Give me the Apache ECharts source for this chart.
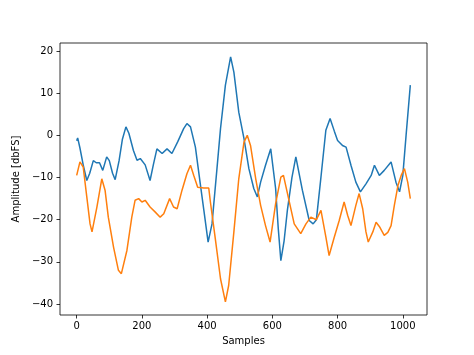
<!DOCTYPE html>
<html>
<head>
<meta charset="utf-8">
<script src="https://cdn.jsdelivr.net/npm/echarts@6/dist/echarts.min.js"></script>
<style>html,body{margin:0;padding:0;background:#fff}#c{width:474px;height:355px}</style>
</head>
<body>
<div id="c"></div>
<script>
// Data
var blueSamples = [0,3,10,20,31,40,51,60,70,80,92,100,110,118,130,140,151,160,174,185,195,210,225,235,246,262,277,292,310,328,338,349,364,379,390,403,415,420,430,441,456,472,482,497,513,528,543,554,564,579,595,610,618,626,636,646,660,672,677,692,713,725,735,749,764,777,790,800,815,826,841,856,870,887,903,913,928,943,964,979,990,1000,1010,1023];
var blueValues  = [-1.3,-0.6,-3,-7,-10.7,-9,-6.0,-6.5,-6.5,-8.3,-5.1,-6,-9,-10.5,-6,-1,2.0,0.5,-3.6,-5.9,-5.5,-7,-10.7,-7,-3.2,-4.3,-3.2,-4.3,-1.5,1.6,2.8,2.0,-2.8,-11.5,-17.8,-25.3,-21,-16.6,-8,1.6,11.9,18.6,15,5.5,-0.8,-7.9,-12.6,-14.6,-11.1,-7.1,-3.2,-12.6,-22,-29.7,-25,-17.8,-10,-5.1,-4.7,-13,-20.2,-21,-20,-9.9,1.2,4.0,1,-1.2,-2.4,-2.8,-7.1,-11.1,-13.4,-11.5,-9.5,-7.1,-9.5,-8.3,-6.3,-11.1,-13.4,-9.5,0,11.9];
var orangeSamples = [0,10,20,31,41,47,62,77,87,97,113,128,137,154,169,179,190,200,210,225,241,256,267,285,297,308,323,338,349,359,371,390,405,410,425,441,456,466,482,497,513,523,533,549,564,579,593,610,626,634,651,667,687,703,718,735,749,764,774,790,805,820,831,841,856,866,877,887,894,908,918,928,943,954,964,974,985,995,1005,1015,1023];
var orangeValues  = [-9.5,-6.3,-7.5,-14.6,-21,-22.9,-17,-10.3,-13,-19.4,-26.5,-32,-32.8,-27.3,-19.4,-15.4,-15,-15.8,-15.4,-17,-18.2,-19.4,-18.6,-15,-17,-17.4,-13,-9.1,-7.1,-9.5,-12.3,-12.5,-12.5,-15.8,-24.5,-34,-39.5,-35.6,-22.9,-10.3,-1.6,0,-2.4,-10.3,-16.6,-21.4,-25.3,-16.2,-9.9,-9.5,-15.4,-21,-23.3,-21,-19.4,-20,-17.8,-24.1,-28.5,-24.1,-20.2,-15.8,-19,-21.4,-16.6,-13.8,-17.4,-22.9,-25.3,-22.9,-20.6,-21.6,-23.7,-23,-21.4,-16.6,-11.9,-9.5,-7.9,-11.1,-15];
var xTicks = [0,200,400,600,800,1000];
var yTicks = [-40,-30,-20,-10,0,10,20];

function pairs(xs, ys){ return xs.map(function(x,i){ return [x, ys[i]]; }); }
function fmt(v){ return String(v).replace('-', '\u2212'); }

var chart = echarts.init(document.getElementById('c'), null, {renderer:'canvas'});
var font = 'DejaVu Sans';
chart.setOption({
  animation: false,
  backgroundColor: '#fff',
  grid: {left: 60, right: 47, top: 43, bottom: 40, show: true, borderColor: '#000', borderWidth: 0.8, backgroundColor: 'transparent'},
  xAxis: {
    type: 'value', min: -51.15, max: 1074.15,
    name: 'Samples', nameLocation: 'middle', nameGap: 21,
    nameTextStyle: {fontFamily: font, fontSize: 10, color: '#000'},
    axisLine: {show: false, onZero: false},
    axisTick: {show: true, inside: false, length: 3.5, lineStyle: {color: '#000', width: 0.8}, customValues: xTicks},
    axisLabel: {fontFamily: font, fontSize: 10, color: '#000', margin: 6, customValues: xTicks, formatter: fmt},
    splitLine: {show: false}
  },
  yAxis: {
    type: 'value', min: -42.6, max: 21.9,
    name: 'Amplitude [dbFS]', nameLocation: 'middle', nameGap: 29, nameRotate: 90,
    nameTextStyle: {fontFamily: font, fontSize: 10, color: '#000'},
    axisLine: {show: false, onZero: false},
    axisTick: {show: true, inside: false, length: 3.5, lineStyle: {color: '#000', width: 0.8}, customValues: yTicks},
    axisLabel: {fontFamily: font, fontSize: 10, color: '#000', margin: 7, customValues: yTicks, formatter: fmt},
    splitLine: {show: false}
  },
  series: [
    {type: 'line', data: pairs(blueSamples, blueValues), showSymbol: false, symbol: 'none', lineStyle: {color: '#1f77b4', width: 1.5}, itemStyle: {color: '#1f77b4'}},
    {type: 'line', data: pairs(orangeSamples, orangeValues), showSymbol: false, symbol: 'none', lineStyle: {color: '#ff7f0e', width: 1.5}, itemStyle: {color: '#ff7f0e'}}
  ]
});
</script>
</body>
</html>
